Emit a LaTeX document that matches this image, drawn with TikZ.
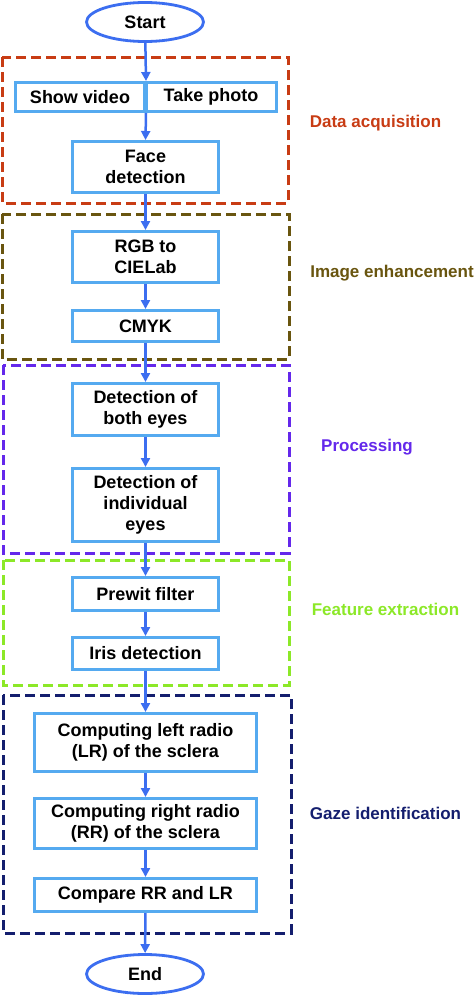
\documentclass[tikz,border=0pt]{standalone}
\usepackage{fontspec}
\setmainfont{Liberation Sans}
\usetikzlibrary{arrows.meta,shapes.geometric}
\definecolor{boxblue}{RGB}{85,170,240}
\definecolor{arrblue}{RGB}{60,110,240}
\definecolor{cacq}{RGB}{200,60,20}
\definecolor{cenh}{RGB}{105,85,15}
\definecolor{cproc}{RGB}{100,40,235}
\definecolor{cfeat}{RGB}{140,232,40}
\definecolor{cgaze}{RGB}{20,30,110}
\tikzset{
  stepbox/.style={draw=boxblue,line width=3pt,fill=white,rectangle,align=center,
    inner sep=0pt,font=\bfseries\fontsize{18}{21}\selectfont},
  term/.style={draw=arrblue,line width=2.8pt,fill=white,ellipse,inner sep=0pt,
    minimum width=117pt,minimum height=39pt,font=\bfseries\fontsize{18}{21}\selectfont},
  group/.style={line width=3pt,dash pattern=on 10pt off 5pt},
  grplabel/.style={font=\bfseries\fontsize{17}{20}\selectfont,inner sep=0pt},
  flow/.style={draw=arrblue,line width=2.5pt,-{Triangle[length=9pt,width=9pt]}}
}
\begin{document}
\begin{tikzpicture}[x=1pt,y=-1pt]
\useasboundingbox (0,0) rectangle (474,996);
% groups
\draw[group,cacq]  (2,57) rectangle (288,203);
\draw[group,cenh]  (2,214) rectangle (289,359);
\draw[group,cproc] (3,365) rectangle (289,553);
\draw[group,cfeat] (3,560) rectangle (289,685);
\draw[group,cgaze] (3,695) rectangle (291,933);
% group labels
\node[grplabel,text=cacq]  (lacq)  at (375.5,123) {Data acquisition};
\node[grplabel,text=cenh]  (lenh)  at (392,273) {Image enhancement};
\node[grplabel,text=cproc] (lproc) at (367,447) {Processing};
\node[grplabel,text=cfeat] (lfeat) at (385.5,609) {Feature extraction};
\node[grplabel,text=cgaze] (lgaze) at (385.5,813) {Gaze identification};
% nodes
\node[term] (start) at (145,22) {Start};
\node[stepbox,minimum width=129pt,minimum height=29pt] (sv) at (80,97) {Show video};
\node[stepbox,minimum width=130pt,minimum height=29pt] (tp) at (211,97) {Take photo};
\node[stepbox,minimum width=146pt,minimum height=51pt] (face) at (145.5,167) {Face\\detection};
\node[stepbox,minimum width=146pt,minimum height=51pt] (rgb) at (145.5,257) {RGB to\\CIELab};
\node[stepbox,minimum width=146pt,minimum height=31pt] (cmyk) at (145.5,326) {CMYK};
\node[stepbox,minimum width=146pt,minimum height=52pt] (both) at (145.5,409.5) {Detection of\\both eyes};
\node[stepbox,minimum width=146pt,minimum height=73pt] (indiv) at (145.5,505) {Detection of\\individual\\eyes};
\node[stepbox,minimum width=146pt,minimum height=33pt] (prewit) at (145.5,594) {Prewit filter};
\node[stepbox,minimum width=146pt,minimum height=32pt] (iris) at (145.5,653.5) {Iris detection};
\node[stepbox,minimum width=222pt,minimum height=58pt] (left) at (145.5,742.5) {Computing left radio\\(LR) of the sclera};
\node[stepbox,minimum width=222pt,minimum height=50pt] (right) at (145.5,823.5) {Computing right radio\\(RR) of the sclera};
\node[stepbox,minimum width=222pt,minimum height=33pt] (cmp) at (145.5,895) {Compare RR and LR};
\node[term] (end) at (145,974) {End};
% connectors
\draw[flow] (start) -- (sv.north east);
\draw[flow] (sv.south east) -- (face.north);
\draw[flow] (face) -- (rgb);
\draw[flow] (rgb) -- (cmyk);
\draw[flow] (cmyk) -- (both);
\draw[flow] (both) -- (indiv);
\draw[flow] (indiv) -- (prewit);
\draw[flow] (prewit) -- (iris);
\draw[flow] (iris) -- (left);
\draw[flow] (left) -- (right);
\draw[flow] (right) -- (cmp);
\draw[flow] (cmp) -- (end);
\end{tikzpicture}
\end{document}
